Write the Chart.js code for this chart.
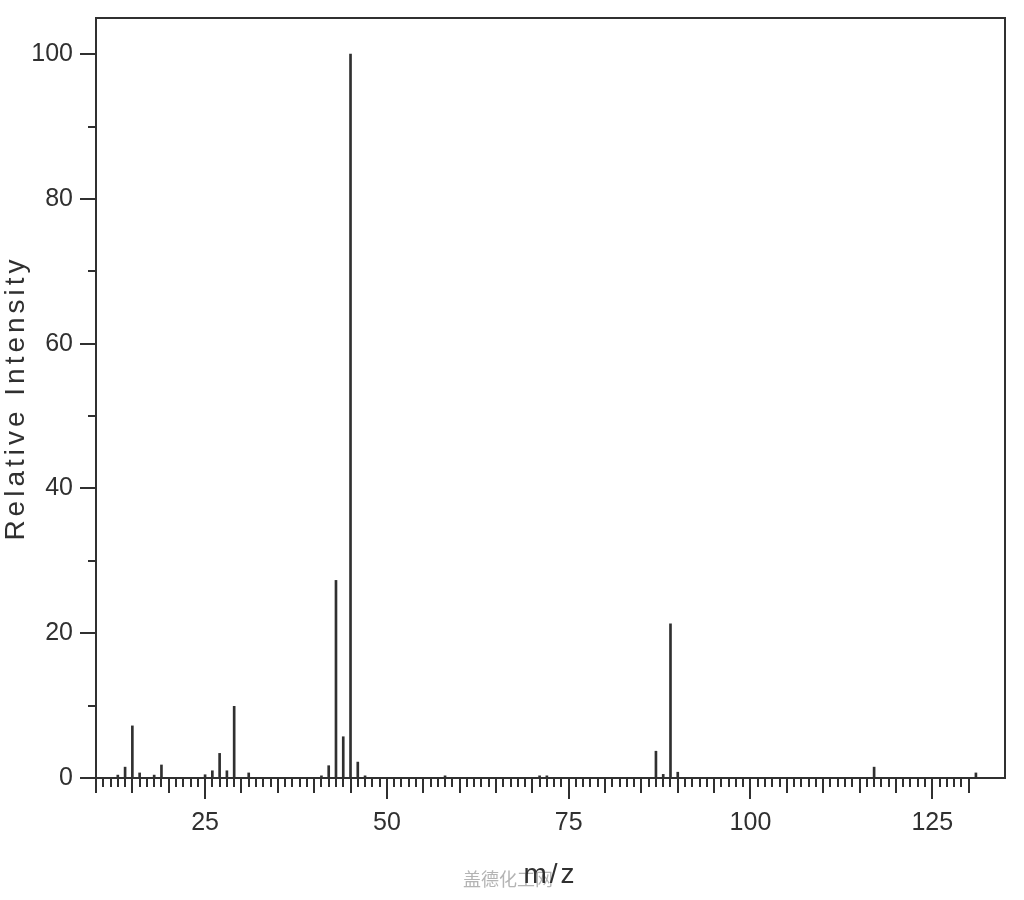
<!DOCTYPE html>
<html>
<head>
<meta charset="utf-8">
<script src="https://cdn.jsdelivr.net/npm/chart.js@4/dist/chart.umd.min.js"></script>
<style>
  html, body { margin: 0; padding: 0; background: #fff; }
  #wrap { width: 1024px; height: 900px; position: relative; }
</style>
</head>
<body>
<div id="wrap"><canvas id="spectrum"></canvas></div>
<script>
// peaks
const mzValues = [13, 14, 15, 16, 18, 19, 25, 26, 27, 28, 29, 31, 41, 42, 43, 44, 45, 46, 47, 58, 71, 72, 87, 88, 89, 90, 117, 131];
const intensities = [0.4, 1.5, 7.2, 0.7, 0.4, 1.8, 0.45, 1.0, 3.4, 1.0, 9.9, 0.7, 0.3, 1.7, 27.3, 5.7, 100, 2.2, 0.3, 0.3, 0.3, 0.3, 3.7, 0.5, 21.3, 0.8, 1.5, 0.7];
const xTickLabels = [25, 50, 75, 100, 125];
const yTickLabels = [0, 20, 40, 60, 80, 100];
const xTitle = 'm/z';
const yTitle = 'Relative Intensity';
const watermark = '盖德化工网';

const ink = '#303030';
const labelFont = '"Liberation Sans", Arial, sans-serif';

let points = mzValues.map((m, i) => ({ x: m, y: intensities[i] }));

// frame, tick marks, titles
const decorations = {
    id: 'decorations',
    afterDraw(chart) {
        const { ctx, chartArea } = chart;
        const xs = chart.scales.x, ys = chart.scales.y;
        ctx.save();
        ctx.strokeStyle = ink;
        ctx.lineWidth = 2;
        ctx.strokeRect(chartArea.left, chartArea.top, chartArea.right - chartArea.left, chartArea.bottom - chartArea.top);

        ctx.beginPath();
        for (let m = 10; m <= 130; m++) {
            let len = m % 25 == 0 ? 21 : (m % 5 == 0 ? 15 : 9);
            let px = Math.round(xs.getPixelForValue(m));
            ctx.moveTo(px, chartArea.bottom);
            ctx.lineTo(px, chartArea.bottom + len);
        }
        for (let v = 0; v <= 100; v += 10) {
            let len = v % 20 == 0 ? 16 : 8;
            let py = Math.round(ys.getPixelForValue(v));
            ctx.moveTo(chartArea.left, py);
            ctx.lineTo(chartArea.left - len, py);
        }
        ctx.stroke();

        // watermark under the x title
        ctx.fillStyle = '#b4b4b4';
        ctx.font = '18px "Noto Sans CJK SC", sans-serif';
        ctx.textAlign = 'left';
        ctx.textBaseline = 'alphabetic';
        ctx.fillText(watermark, 463, 886);

        ctx.fillStyle = ink;
        ctx.font = '28px ' + labelFont;
        ctx.letterSpacing = '3px';
        ctx.textAlign = 'center';
        ctx.fillText(xTitle, (chartArea.left + chartArea.right) / 2, 883);

        ctx.letterSpacing = '4px';
        ctx.translate(24, (chartArea.top + chartArea.bottom) / 2);
        ctx.rotate(-Math.PI / 2);
        ctx.fillText(yTitle, 0, 0);
        ctx.restore();
    }
};

const ctx = document.getElementById('spectrum').getContext('2d');
const spectrumChart = new Chart(ctx, {
    type: 'bar',
    data: {
        datasets: [{
            data: points,
            backgroundColor: ink,
            barThickness: 2,
            borderWidth: 0
        }]
    },
    options: {
        responsive: true,
        maintainAspectRatio: false,
        animation: false,
        events: [],
        layout: { padding: { top: 18, right: 19, left: 0, bottom: 0 } },
        plugins: {
            legend: { display: false },
            tooltip: { enabled: false }
        },
        scales: {
            x: {
                type: 'linear',
                min: 10,
                max: 135,
                offset: false,
                grid: { display: false, drawTicks: true, tickLength: 22 },
                border: { display: false },
                afterBuildTicks: (scale) => { scale.ticks = xTickLabels.map(v => ({ value: v })); },
                afterFit: (scale) => {
                    scale.height = 122;
                    scale.paddingLeft = 0;
                    scale.paddingRight = 0;
                },
                ticks: {
                    padding: 8,
                    maxRotation: 0,
                    autoSkip: false,
                    color: ink,
                    font: { family: labelFont, size: 25 }
                }
            },
            y: {
                min: 0,
                max: 105,
                grid: { display: false, drawTicks: true, tickLength: 16 },
                border: { display: false },
                afterBuildTicks: (scale) => { scale.ticks = yTickLabels.map(v => ({ value: v })); },
                afterFit: (scale) => {
                    scale.width = 96;
                    scale.paddingTop = 0;
                    scale.paddingBottom = 0;
                },
                ticks: {
                    padding: 7,
                    color: ink,
                    font: { family: labelFont, size: 25 }
                }
            }
        }
    },
    plugins: [decorations]
});
</script>
</body>
</html>
